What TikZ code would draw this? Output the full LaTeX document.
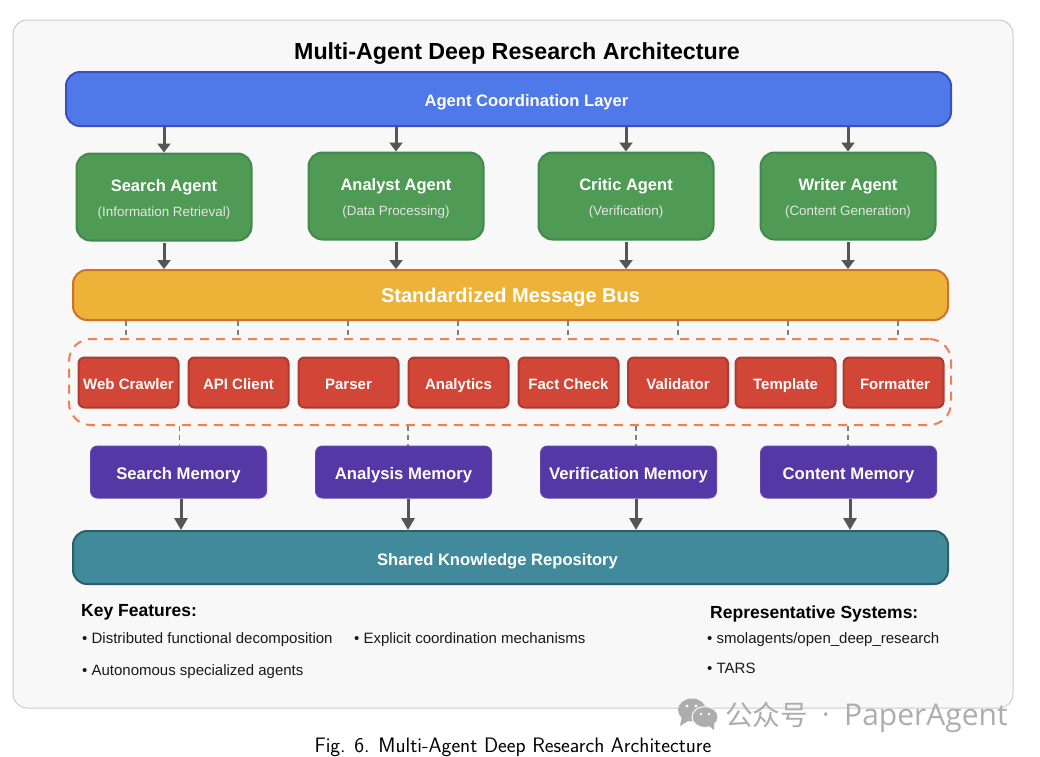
\documentclass[tikz,border=0pt]{standalone}
\usepackage{fontspec}
\setmainfont{Liberation Sans}
\setsansfont{Latin Modern Sans}
\newfontfamily\cjkfont{Noto Sans CJK SC}
\newfontfamily\wmfont{Open Sans}
\usetikzlibrary{arrows.meta}
\definecolor{panelfill}{HTML}{F8F8F8}
\definecolor{panelline}{HTML}{CCCCCC}
\definecolor{blueF}{HTML}{4F78E8}
\definecolor{blueL}{HTML}{3B50B8}
\definecolor{greenF}{HTML}{4F9A54}
\definecolor{greenL}{HTML}{43894F}
\definecolor{yelF}{HTML}{ECB338}
\definecolor{yelL}{HTML}{D2702A}
\definecolor{redF}{HTML}{D14637}
\definecolor{redL}{HTML}{AE3B30}
\definecolor{purF}{HTML}{5637A6}
\definecolor{purL}{HTML}{6645AE}
\definecolor{tealF}{HTML}{408A9C}
\definecolor{tealL}{HTML}{2C5E6C}
\definecolor{arrowC}{HTML}{555555}
\definecolor{dashC}{HTML}{808080}
\definecolor{groupC}{HTML}{F47C56}
\definecolor{wmC}{HTML}{ADADAD}
\tikzset{
  x=1pt,y=-1pt,
  box/.style={draw,rounded corners=#1,inner sep=0pt,align=center,text=white,font=\bfseries},
  layer/.style={box=14pt,line width=2pt},
  agent/.style={box=14pt,line width=2pt,fill=greenF,draw=greenL,minimum width=175pt,minimum height=87pt},
  tool/.style={box=6pt,line width=2pt,fill=redF,draw=redL,minimum width=100pt,minimum height=50pt,text height=16pt,text depth=3pt,font=\fontsize{15}{17}\bfseries\selectfont},
  memory/.style={box=7pt,line width=1pt,fill=purF,draw=purL,minimum width=176pt,minimum height=52pt,text height=18pt,text depth=3.5pt,font=\fontsize{16.7}{19}\bfseries\selectfont},
  arr/.style={draw=arrowC,line width=3pt,-{Triangle[width=13pt,length=9pt]}},
  arrlong/.style={draw=arrowC,line width=3pt,-{Triangle[width=13pt,length=12pt]}},
  dsh/.style={draw=dashC,line width=1.3pt,dash pattern=on 5pt off 4pt},
  head/.style={font=\fontsize{17.5}{20}\bfseries\selectfont,text=black,anchor=base west,inner sep=0pt},
  item/.style={font=\fontsize{15}{17}\selectfont,text=black!90,anchor=base west,inner sep=0pt},
  wm/.style={text=wmC,inner sep=0pt,anchor=base west},
}
\newcommand{\agentlabel}[2]{{\rule{0pt}{16pt}\fontsize{16.5}{18}\bfseries\selectfont #1}\\[11pt]{\fontsize{13.4}{14}\mdseries\selectfont\color{white!90!black} #2}}
\begin{document}
\begin{tikzpicture}
\useasboundingbox (0,0) rectangle (1040,756);
\node[draw=panelline,fill=panelfill,rounded corners=14pt,line width=1pt,minimum width=1000pt,minimum height=688pt,inner sep=0pt] (panel) at (513,364) {};
\node[font=\fontsize{23.25}{26}\bfseries\selectfont,inner sep=0pt] (title) at (517,54) {Multi-Agent Deep Research Architecture};
% layers
\node[layer,fill=blueF,draw=blueL,minimum width=885pt,minimum height=54pt,text height=18pt,text depth=3.5pt,font=\fontsize{16.6}{18}\bfseries\selectfont] (coord) at (508.5,99) {\hspace*{36pt}Agent Coordination Layer};
\node[agent] (search) at (164,197) {\agentlabel{Search Agent}{(Information Retrieval)}};
\node[agent] (analyst) at (396,196) {\agentlabel{Analyst Agent}{(Data Processing)}};
\node[agent] (critic) at (626,196) {\agentlabel{Critic Agent}{(Verification)}};
\node[agent] (writer) at (848,196) {\agentlabel{Writer Agent}{(Content Generation)}};
\node[layer,fill=yelF,draw=yelL,minimum width=875pt,minimum height=50pt,text height=18.2pt,text depth=4pt,font=\fontsize{20}{22}\bfseries\selectfont] (bus) at (510.5,295) {Standardized Message Bus};
\node[draw=groupC,rounded corners=22pt,line width=2pt,dash pattern=on 9pt off 7pt,minimum width=882pt,minimum height=86pt,inner sep=0pt] (group) at (510,382) {};
\node[tool] (t1) at (128.5,382.5) {Web Crawler};
\node[tool] (t2) at (238.5,382.5) {API Client};
\node[tool] (t3) at (348.5,382.5) {Parser};
\node[tool] (t4) at (458.5,382.5) {Analytics};
\node[tool] (t5) at (568.5,382.5) {Fact Check};
\node[tool] (t6) at (678,382.5) {Validator};
\node[tool] (t7) at (785.5,382.5) {Template};
\node[tool] (t8) at (893.5,382.5) {\hspace*{3pt}Formatter};
\node[memory] (m1) at (178.5,472) {Search Memory};
\node[memory] (m2) at (403.5,472) {Analysis Memory};
\node[memory] (m3) at (628.5,472) {Verification Memory};
\node[memory] (m4) at (848.5,472) {Content Memory};
\node[layer,fill=tealF,draw=tealL,minimum width=875pt,minimum height=53pt,text height=20pt,text depth=3.5pt,font=\fontsize{16.6}{18}\bfseries\selectfont] (repo) at (510.5,557.5) {\hspace*{-26pt}Shared Knowledge Repository};
% connectors
\foreach \a in {search,analyst,critic,writer}{
  \draw[arr] (\a.north |- coord.south) -- (\a.north);
  \draw[arr] (\a.south) ++(0,1.5) -- (\a.south |- bus.north);
}
\coordinate (d1) at (126,339);\coordinate (d2) at (238,339);\coordinate (d3) at (348,339);\coordinate (d4) at (458,339);
\coordinate (d5) at (568,339);\coordinate (d6) at (678,339);\coordinate (d7) at (788,339);\coordinate (d8) at (898,339);
\foreach \d in {d1,d2,d3,d4,d5,d6,d7,d8}{\draw[dsh] (\d |- bus.south) -- (\d);}
\coordinate (e1) at (179.5,446);\coordinate (e2) at (408,446);\coordinate (e3) at (636,446);\coordinate (e4) at (848,446);
\foreach \m/\e in {m1/e1,m2/e2,m3/e3,m4/e4}{\draw[dsh] (\e |- group.south) -- (\e |- \m.north);}
\coordinate (f1) at (181,498);\coordinate (f2) at (408,498);\coordinate (f3) at (636,498);\coordinate (f4) at (850,498);
\foreach \m/\f in {m1/f1,m2/f2,m3/f3,m4/f4}{\draw[arrlong] (\f |- \m.south) -- (\f |- repo.north);}
% notes
\node[head] (kf) at (81,616) {Key Features:};
\node[item] (k1) at (82,643) {\textbullet\ Distributed functional decomposition};
\node[item] (k2) at (354,643) {\textbullet\ Explicit coordination mechanisms};
\node[item] (k3) at (82,675) {\textbullet\ Autonomous specialized agents};
\node[head] (rs) at (710,618) {Representative Systems:};
\node[item] (r1) at (707,643) {\textbullet\ smolagents/open\_deep\_research};
\node[item] (r2) at (707,673) {\textbullet\ TARS};
% watermark
\fill[wmC] (692,710) ellipse (14pt and 11.5pt);
\fill[wmC] (682,716) -- (680,726) -- (690,720) -- cycle;
\draw[panelfill,line width=1pt,fill=wmC] (705,717) ellipse (13pt and 10.5pt);
\fill[wmC] (708,725) -- (714,730) -- (714,722) -- cycle;
\fill[white] (687,706) circle (1.6pt) (696,706) circle (1.6pt) (701,714) circle (1.4pt) (709,714) circle (1.4pt);
\node[wm,font=\cjkfont\fontsize{27.7}{30}\selectfont] (wm1) at (725,725) {公众号};
\node[wm,font=\wmfont\fontsize{28}{30}\selectfont] (wm2) at (822,724) {·};
\node[wm,font=\wmfont\fontsize{30}{32}\selectfont] (wm3) at (844,725) {PaperAgent};
% caption
\node[font=\sffamily\fontsize{20.9}{22}\selectfont,inner sep=0pt,anchor=base] (cap) at (513,752) {Fig. 6. Multi-Agent Deep Research Architecture};
\end{tikzpicture}
\end{document}
